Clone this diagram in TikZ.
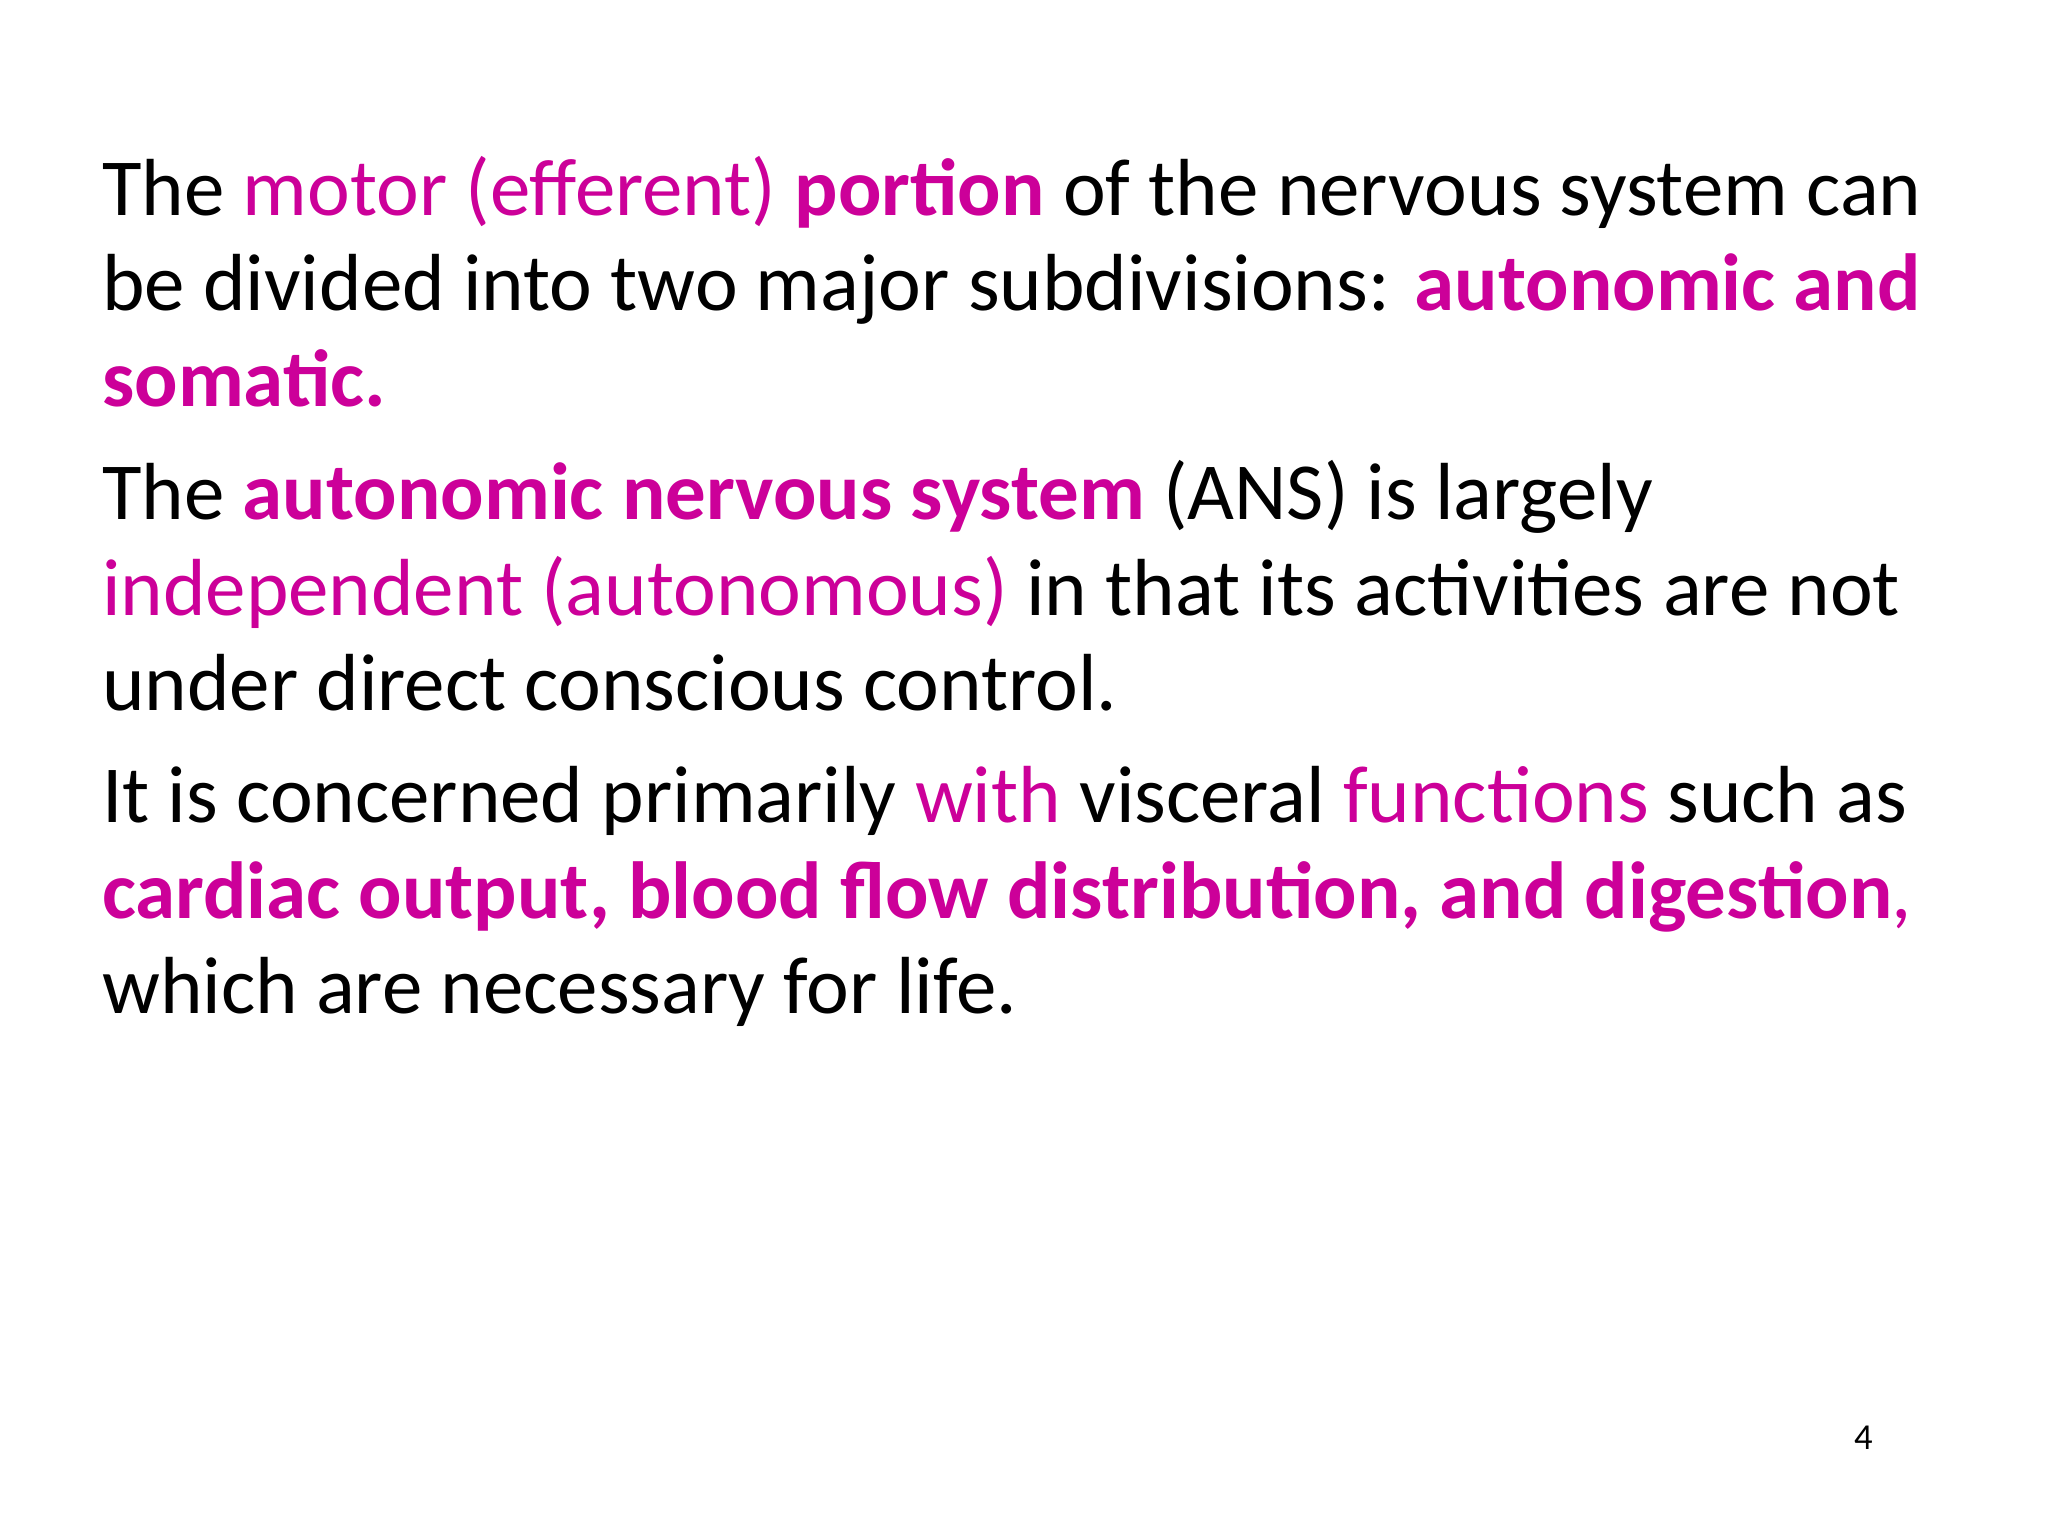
\documentclass[tikz,border=0pt]{standalone}
\usepackage{fontspec}
\setmainfont{Carlito}
\definecolor{mag}{HTML}{CC0099}
\begin{document}
\begin{tikzpicture}[x=1pt,y=-1pt,
  ln/.style={anchor=base west,inner sep=0pt,font=\fontsize{62}{75}\selectfont}]
\useasboundingbox[fill=white] (0,0) rectangle (1568,1176);
\node[ln] (l1) at (78,165) {The \textcolor{mag}{motor (efferent)} \textcolor{mag}{\bfseries portion} of the nervous system can};
\node[ln] (l2) at (78,238) {be divided into two major subdivisions: \textcolor{mag}{\bfseries autonomic and}};
\node[ln] (l3) at (78,311) {\textcolor{mag}{\bfseries somatic.}};
\node[ln] (l4) at (78,398) {The \textcolor{mag}{\bfseries autonomic nervous system} (ANS) is largely};
\node[ln] (l5) at (78,471) {\textcolor{mag}{independent (autonomous)} in that its activities are not};
\node[ln] (l6) at (78,544) {under direct conscious control.};
\node[ln] (l7) at (78,630) {It is concerned primarily \textcolor{mag}{with} visceral \textcolor{mag}{functions} such as};
\node[ln] (l8) at (78,703) {\textcolor{mag}{\bfseries cardiac output, blood flow distribution, and digestion\mdseries,}};
\node[ln] (l9) at (78,776) {which are necessary for life.};
\node[anchor=base east,inner sep=0pt,font=\fontsize{28}{34}\selectfont] (pg) at (1434,1110) {4};
\end{tikzpicture}
\end{document}
